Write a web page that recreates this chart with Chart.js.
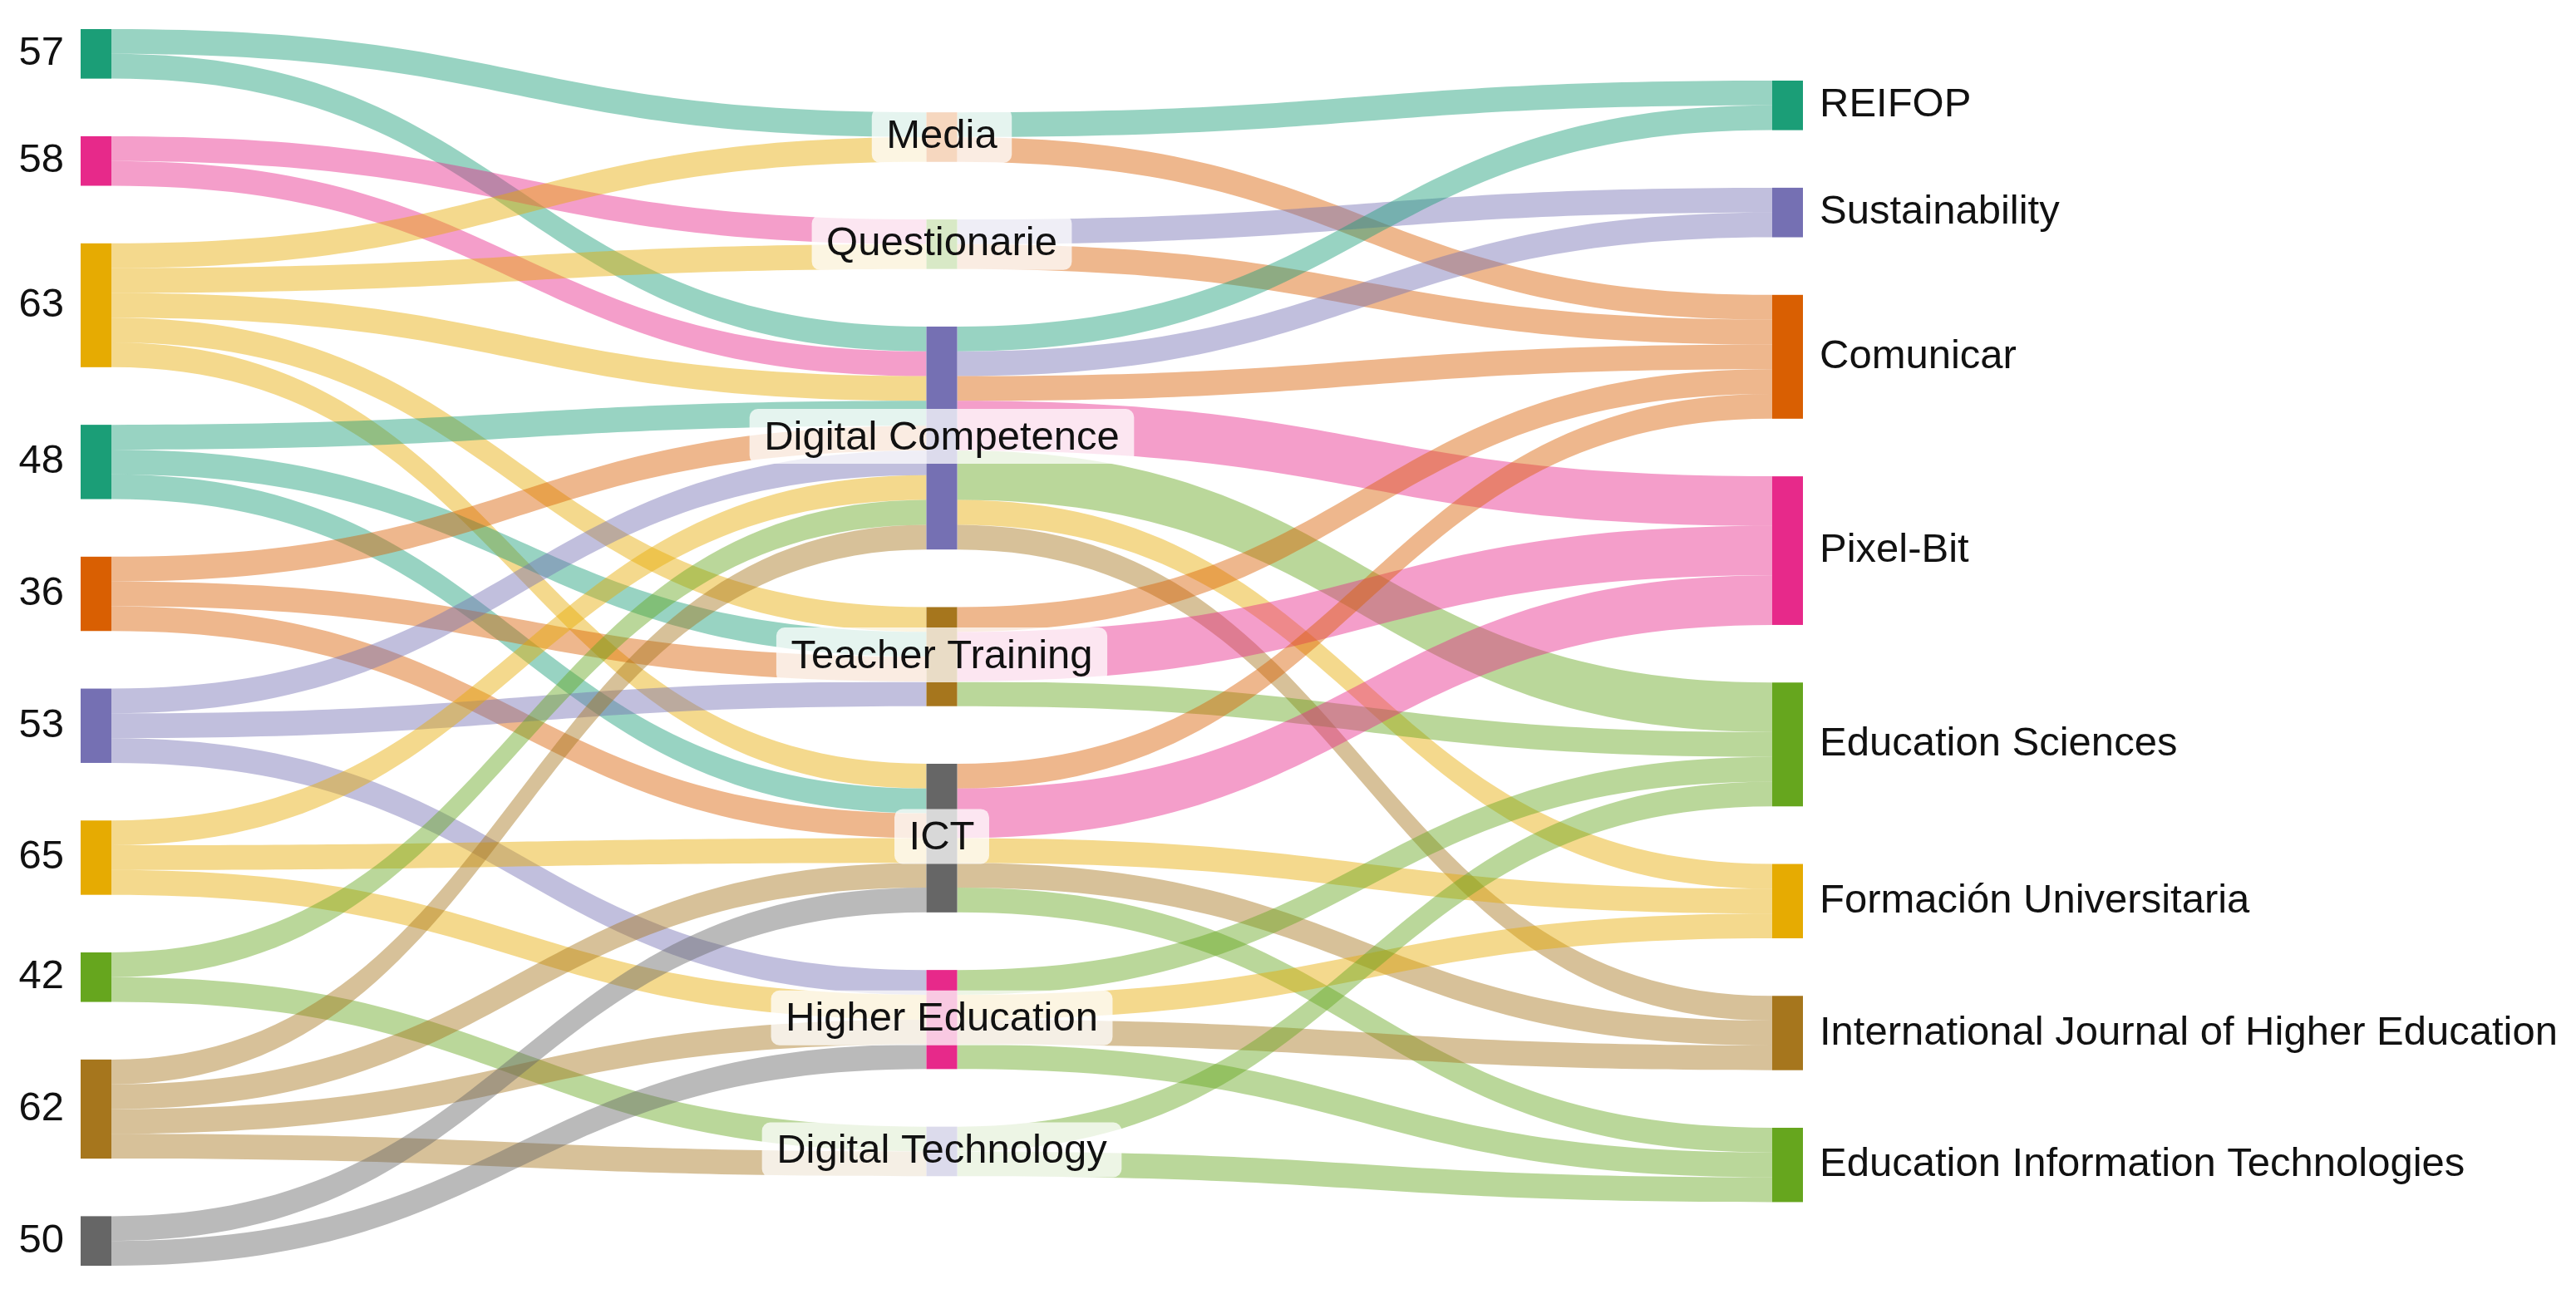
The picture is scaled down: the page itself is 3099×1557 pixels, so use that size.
<!DOCTYPE html>
<html>
<head>
<meta charset="utf-8">
<script src="https://cdn.jsdelivr.net/npm/chart.js@4.4.1/dist/chart.umd.min.js"></script>
<style>
html, body { margin: 0; padding: 0; background: #fff; overflow: hidden; }
canvas { display: block; }
</style>
</head>
<body>
<canvas id="sankeyChart" width="3099" height="1557"></canvas>
<script>
// three columns: clusters -> topics -> journals
const clusters = ['57', '58', '63', '48', '36', '53', '65', '42', '62', '50'];
const topics = ['Media', 'Questionarie', 'Digital Competence', 'Teacher Training', 'ICT', 'Higher Education', 'Digital Technology'];
const journals = ['REIFOP', 'Sustainability', 'Comunicar', 'Pixel-Bit', 'Education Sciences',
    'Formación Universitaria', 'International Journal of Higher Education', 'Education Information Technologies'];

// cluster -> topic links
const clusterLinkFrom = ['57', '57', '58', '58', '63', '63', '63', '63', '63', '48', '48', '48',
    '36', '36', '36', '53', '53', '53', '65', '65', '65', '42', '42', '62', '62', '62', '62', '50', '50'];
const clusterLinkTo = ['Media', 'Digital Competence', 'Questionarie', 'Digital Competence',
    'Media', 'Questionarie', 'Digital Competence', 'Teacher Training', 'ICT',
    'Digital Competence', 'Teacher Training', 'ICT',
    'Digital Competence', 'Teacher Training', 'ICT',
    'Digital Competence', 'Teacher Training', 'Higher Education',
    'Digital Competence', 'ICT', 'Higher Education',
    'Digital Competence', 'Digital Technology',
    'Digital Competence', 'ICT', 'Higher Education', 'Digital Technology',
    'ICT', 'Higher Education'];
const clusterLinkValue = [1, 1, 1, 1, 1, 1, 1, 1, 1, 1, 1, 1, 1, 1, 1, 1, 1, 1, 1, 1, 1, 1, 1, 1, 1, 1, 1, 1, 1];

// topic -> journal links
const topicLinkFrom = ['Media', 'Media', 'Questionarie', 'Questionarie',
    'Digital Competence', 'Digital Competence', 'Digital Competence', 'Digital Competence',
    'Digital Competence', 'Digital Competence', 'Digital Competence',
    'Teacher Training', 'Teacher Training', 'Teacher Training',
    'ICT', 'ICT', 'ICT', 'ICT', 'ICT',
    'Higher Education', 'Higher Education', 'Higher Education', 'Higher Education',
    'Digital Technology', 'Digital Technology'];
const topicLinkTo = ['REIFOP', 'Comunicar', 'Sustainability', 'Comunicar',
    'REIFOP', 'Sustainability', 'Comunicar', 'Pixel-Bit',
    'Education Sciences', 'Formación Universitaria', 'International Journal of Higher Education',
    'Comunicar', 'Pixel-Bit', 'Education Sciences',
    'Comunicar', 'Pixel-Bit', 'Formación Universitaria', 'International Journal of Higher Education', 'Education Information Technologies',
    'Education Sciences', 'Formación Universitaria', 'International Journal of Higher Education', 'Education Information Technologies',
    'Education Sciences', 'Education Information Technologies'];
const topicLinkValue = [1, 1, 1, 1, 1, 1, 1, 2, 2, 1, 1, 1, 2, 1, 1, 2, 1, 1, 1, 1, 1, 1, 1, 1, 1];

// Dark2 colours
const teal = '#1b9e77', orange = '#d95f02', purple = '#7570b3', pink = '#e7298a';
const green = '#66a61e', yellow = '#e6ab02', brown = '#a6761d', gray = '#666666';
const clusterColors = [teal, pink, yellow, teal, orange, purple, yellow, green, brown, gray];
const topicColors = [orange, green, purple, brown, gray, pink, purple];
const journalColors = [teal, purple, orange, pink, green, yellow, brown, green];

const NODE_WIDTH = 37;
const NODE_GAP = 2.325;            // gap between nodes, in value units
const COLUMN_TOP = [0, 3.36, 2.08]; // where each column starts, in value units
const LINK_ALPHA = 0.45;
const FONT = '49px "Liberation Sans", Arial, sans-serif';

function rgba(hex, a) {
    const n = parseInt(hex.slice(1), 16);
    return `rgba(${(n >> 16) & 255},${(n >> 8) & 255},${n & 255},${a})`;
}

// build nodes and links
const nodes = {};
[clusters, topics, journals].forEach((names, col) => {
    const colors = [clusterColors, topicColors, journalColors][col];
    names.forEach((name, i) => {
        nodes[name] = { name, col, color: colors[i], inSum: 0, outSum: 0, out: [], inc: [] };
    });
});

const links = [];
function addLinks(from, to, values, colorBy) {
    from.forEach((s, i) => {
        const link = { source: nodes[s], target: nodes[to[i]], value: values[i] };
        link.color = colorBy === 'source' ? link.source.color : link.target.color;
        link.source.out.push(link);
        link.target.inc.push(link);
        link.source.outSum += link.value;
        link.target.inSum += link.value;
        links.push(link);
    });
}
addLinks(clusterLinkFrom, clusterLinkTo, clusterLinkValue, 'source');
addLinks(topicLinkFrom, topicLinkTo, topicLinkValue, 'target');

// stack nodes per column
const columns = [clusters, topics, journals].map(names => names.map(n => nodes[n]));
columns.forEach(col => col.forEach(n => { n.value = Math.max(n.inSum, n.outSum); }));
const colHeights = columns.map(col => col.reduce((s, n) => s + n.value, 0) + (col.length - 1) * NODE_GAP);
const yMax = Math.max(...colHeights.map((h, c) => h + COLUMN_TOP[c]));
columns.forEach((col, c) => {
    let y = COLUMN_TOP[c];
    col.forEach(n => {
        n.y0 = y;
        n.y1 = y + n.value;
        y = n.y1 + NODE_GAP;
    });
});

// link slots: outgoing ordered by target, incoming ordered by source
Object.values(nodes).forEach(n => {
    let y = n.y0;
    n.out.slice().sort((a, b) => a.target.y0 - b.target.y0).forEach(l => { l.sy0 = y; y += l.value; });
    y = n.y0;
    n.inc.slice().sort((a, b) => a.source.y0 - b.source.y0).forEach(l => { l.ty0 = y; y += l.value; });
});

const sankeyPlugin = {
    id: 'sankey',
    afterDatasetsDraw(chart) {
        const ctx = chart.ctx;
        const xs = chart.scales.x;
        const ys = chart.scales.y;
        const px = v => ys.getPixelForValue(v);
        ctx.save();

        // links
        links.forEach(l => {
            const x0 = xs.getPixelForValue(l.source.col) + NODE_WIDTH / 2;
            const x1 = xs.getPixelForValue(l.target.col) - NODE_WIDTH / 2;
            const xm = (x0 + x1) / 2;
            const s0 = px(l.sy0), s1 = px(l.sy0 + l.value);
            const t0 = px(l.ty0), t1 = px(l.ty0 + l.value);
            ctx.beginPath();
            ctx.moveTo(x0, s0);
            ctx.bezierCurveTo(xm, s0, xm, t0, x1, t0);
            ctx.lineTo(x1, t1);
            ctx.bezierCurveTo(xm, t1, xm, s1, x0, s1);
            ctx.closePath();
            ctx.fillStyle = rgba(l.color, LINK_ALPHA);
            ctx.fill();
        });

        // nodes
        Object.values(nodes).forEach(n => {
            const cx = xs.getPixelForValue(n.col);
            ctx.fillStyle = n.color;
            ctx.fillRect(cx - NODE_WIDTH / 2, px(n.y0), NODE_WIDTH, px(n.y1) - px(n.y0));
        });

        // labels
        ctx.font = FONT;
        ctx.textBaseline = 'middle';
        Object.values(nodes).forEach(n => {
            const cx = xs.getPixelForValue(n.col);
            const cy = (px(n.y0) + px(n.y1)) / 2;
            if (n.col === 0) {
                ctx.textAlign = 'right';
                ctx.fillStyle = '#111';
                ctx.fillText(n.name, cx - NODE_WIDTH / 2 - 20, cy);
            } else if (n.col === 2) {
                ctx.textAlign = 'left';
                ctx.fillStyle = '#111';
                ctx.fillText(n.name, cx + NODE_WIDTH / 2 + 20, cy);
            } else {
                const w = ctx.measureText(n.name).width + 35;
                const h = 66;
                ctx.fillStyle = 'rgba(255,255,255,0.75)';
                ctx.beginPath();
                ctx.roundRect(cx - w / 2, cy - h / 2 - 2, w, h, 10);
                ctx.fill();
                ctx.textAlign = 'center';
                ctx.fillStyle = '#111';
                ctx.fillText(n.name, cx, cy);
            }
        });
        ctx.restore();
    }
};

new Chart(document.getElementById('sankeyChart'), {
    type: 'scatter',
    data: { datasets: [{ data: [] }] },
    options: {
        responsive: false,
        animation: false,
        devicePixelRatio: 1,
        layout: { padding: { left: 115.5, right: 948.5, top: 35, bottom: 34 } },
        plugins: { legend: { display: false }, tooltip: { enabled: false } },
        scales: {
            x: { type: 'linear', min: 0, max: 2, display: false },
            y: { type: 'linear', min: 0, max: yMax, reverse: true, display: false }
        }
    },
    plugins: [sankeyPlugin]
});
</script>
</body>
</html>
